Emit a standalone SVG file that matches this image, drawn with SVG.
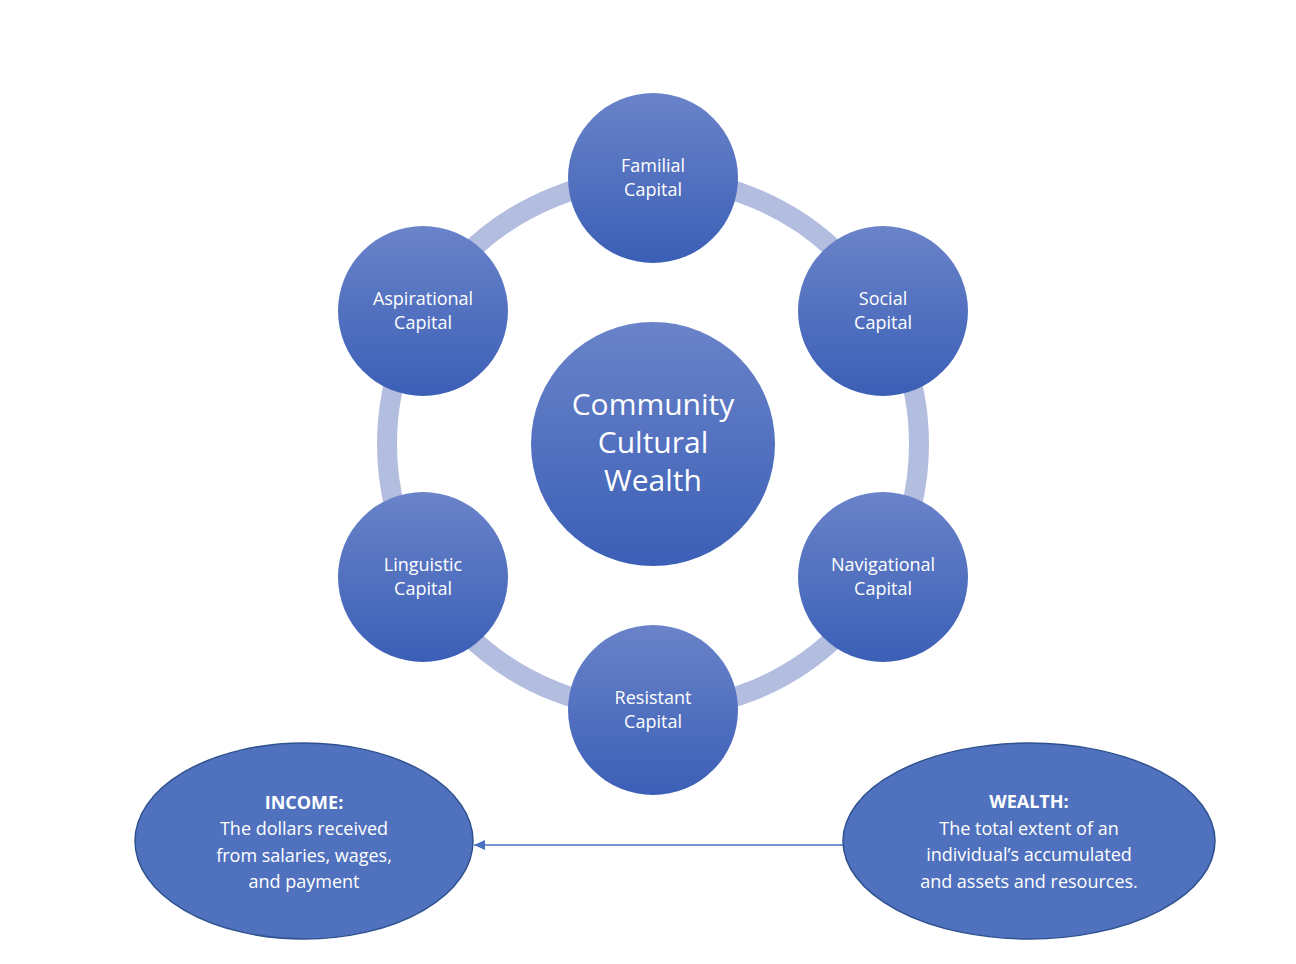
<svg xmlns="http://www.w3.org/2000/svg" width="1296" height="964" viewBox="0 0 1296 964">
<defs>
<linearGradient id="g" x1="0" y1="0" x2="0" y2="1"><stop offset="0" stop-color="#6a83c9"/><stop offset="1" stop-color="#3b5fb6"/></linearGradient>
<marker id="ah" markerWidth="12" markerHeight="10" refX="11" refY="5" orient="auto" markerUnits="userSpaceOnUse"><path d="M0,0 L11,5 L0,10 Z" fill="#4a6fc0"/></marker>
<style>
.c{fill:url(#g)}
.t{font-family:"Open Sans","Liberation Sans",sans-serif;fill:#fff;text-anchor:middle;font-size:18px}
.b{font-family:"Open Sans","Liberation Sans",sans-serif;fill:#fff;text-anchor:middle;font-size:30px}
.e{fill:#4f71be;stroke:#2f528f;stroke-width:1.5}
</style>
</defs>
<rect width="1296" height="964" fill="#fff"/>
<g id="connectors">
<circle cx="653" cy="444" r="266" fill="none" stroke="#b3bddf" stroke-width="20"/>
<line x1="843" y1="845" x2="474" y2="845" stroke="#4a6fc0" stroke-width="1.5" marker-end="url(#ah)"/>
</g>
<g id="center"><circle class="c" cx="653" cy="444" r="122"/><text class="b" x="653" y="415">Community</text><text class="b" x="653" y="453">Cultural</text><text class="b" x="653" y="491">Wealth</text></g>
<g id="familial"><circle class="c" cx="653" cy="178" r="85"/><text class="t" x="653" y="172">Familial</text><text class="t" x="653" y="196">Capital</text></g>
<g id="social"><circle class="c" cx="883" cy="311" r="85"/><text class="t" x="883" y="305">Social</text><text class="t" x="883" y="329">Capital</text></g>
<g id="navigational"><circle class="c" cx="883" cy="577" r="85"/><text class="t" x="883" y="571">Navigational</text><text class="t" x="883" y="595">Capital</text></g>
<g id="resistant"><circle class="c" cx="653" cy="710" r="85"/><text class="t" x="653" y="704">Resistant</text><text class="t" x="653" y="728">Capital</text></g>
<g id="linguistic"><circle class="c" cx="423" cy="577" r="85"/><text class="t" x="423" y="571">Linguistic</text><text class="t" x="423" y="595">Capital</text></g>
<g id="aspirational"><circle class="c" cx="423" cy="311" r="85"/><text class="t" x="423" y="305">Aspirational</text><text class="t" x="423" y="329">Capital</text></g>
<g id="income"><ellipse class="e" cx="304" cy="841" rx="169" ry="98"/><text class="t" x="304" y="809" font-weight="bold">INCOME:</text><text class="t" x="304" y="835">The dollars received</text><text class="t" x="304" y="862">from salaries, wages,</text><text class="t" x="304" y="888">and payment</text></g>
<g id="wealth"><ellipse class="e" cx="1029" cy="841" rx="186" ry="98"/><text class="t" x="1029" y="808" font-weight="bold">WEALTH:</text><text class="t" x="1029" y="835">The total extent of an</text><text class="t" x="1029" y="861">individual’s accumulated</text><text class="t" x="1029" y="888">and assets and resources.</text></g>
</svg>
